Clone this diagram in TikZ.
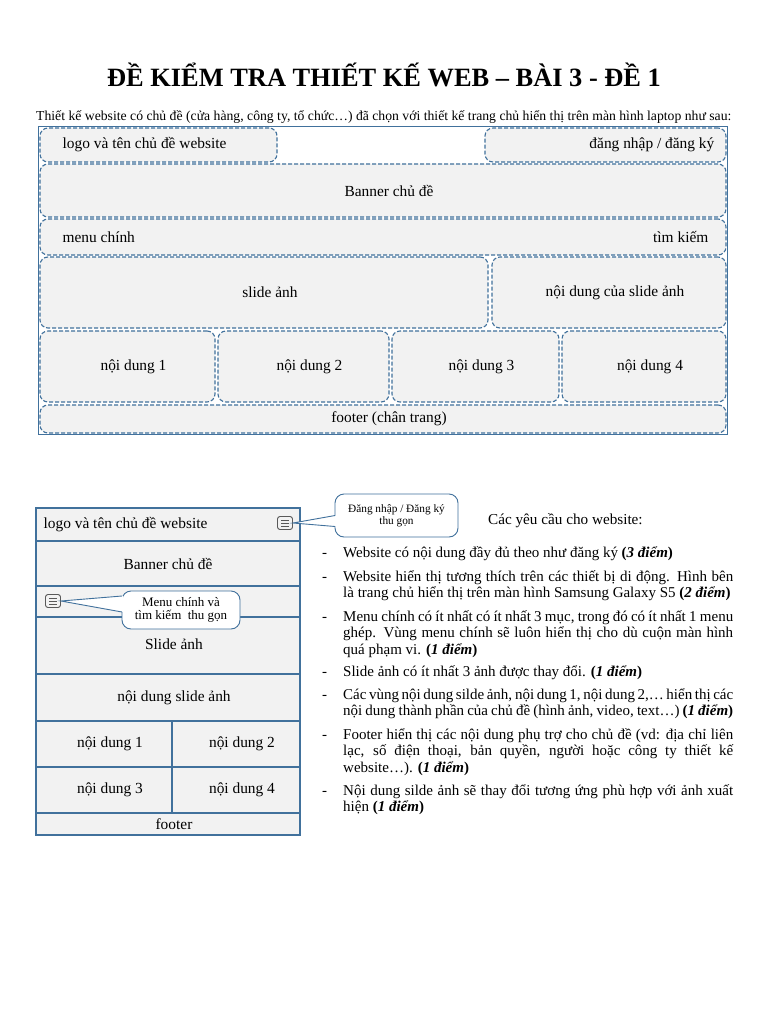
\documentclass[tikz,border=0pt]{standalone}
\usepackage{fontspec}
\setmainfont{Liberation Serif}
\usetikzlibrary{positioning}
\definecolor{lineblue}{RGB}{65,113,156}
\definecolor{boxgray}{RGB}{242,242,242}
\definecolor{icongray}{RGB}{89,89,89}

\begin{document}
\begin{tikzpicture}[x=1pt,y=-1pt]%
\tikzstyle{padtext}=[execute at begin node=\hspace*{12pt}];%%
\tikzstyle{lbox}=[draw=lineblue,dash pattern=on 4pt off 2pt,line width=1.1pt,fill=boxgray,rounded corners=8pt,inner sep=0pt,padtext,font=\fontsize{15.4}{17}\selectfont];%%
\tikzstyle{mbox}=[draw=lineblue,line width=1.2pt,fill=boxgray,inner sep=0pt,font=\fontsize{15.4}{17}\selectfont];%%
\tikzstyle{btext}=[inner sep=0pt,font=\fontsize{15.4}{17}\selectfont];%%
\tikzstyle{callout}=[draw=lineblue,line width=.9pt,fill=white,rounded corners=9pt,align=center,inner sep=0pt];%%
\tikzstyle{menuicon}=[draw=icongray,line width=.9pt,fill=boxgray,rounded corners=2.5pt,minimum width=15pt,minimum height=13pt,inner sep=0pt];%%
\tikzstyle{req}=[anchor=base west,text width=411pt,align=justify,inner sep=0pt,font=\fontsize{15}{16.8}\selectfont];%%
\useasboundingbox[fill=white] (0,0) rectangle (768,1024);%%
% heading
\node[anchor=base,inner sep=0pt,font=\fontsize{26.4}{30}\selectfont\bfseries] (title) at (384,87) {ĐỀ KIỂM TRA THIẾT KẾ WEB – BÀI 3 - ĐỀ 1}; %%
\node[anchor=base west,inner sep=0pt,font=\fontsize{13.7}{15}\selectfont] (intro) at (36,121) {Thiết kế website có chủ đề (cửa hàng, công ty, tổ chức…) đã chọn với thiết kế trang chủ hiển thị trên màn hình laptop như sau:}; %%
% laptop
\node[draw=lineblue,line width=.8pt,minimum width=689pt,minimum height=308pt,inner sep=0pt] (laptop) at (382.5,280) {}; %%
\node[lbox,minimum width=237pt,minimum height=34pt] (llogo) at (158.5,145) {}; %%
\node[btext,anchor=west] (llogotext) at ([xshift=23pt]llogo.west) {logo và tên chủ đề website}; %%
\node[lbox,minimum width=241pt,minimum height=34pt] (llogin) at (605.5,145) {}; %%
\node[btext,anchor=east] (llogintext) at ([xshift=-12pt]llogin.east) {đăng nhập / đăng ký}; %%
\node[lbox,minimum width=686pt,minimum height=53pt] (lbanner) at (383,190.5) {Banner chủ đề}; %%
\node[lbox,minimum width=686pt,minimum height=36pt] (lmenu) at (383,237) {}; %%
\node[btext,anchor=west] (lmenutext) at ([xshift=23pt]lmenu.west) {menu chính}; %%
\node[btext,anchor=east] (lsearch) at ([xshift=-18pt]lmenu.east) {tìm kiếm}; %%
\node[lbox,minimum width=448pt,minimum height=71pt] (lslide) at (264,292.5) {slide ảnh}; %%
\node[lbox,minimum width=234pt,minimum height=71pt] (lslideinfo) at (609,292.5) {nội dung của slide ảnh}; %%
\node[lbox,minimum width=175pt,minimum height=71pt] (lnd1) at (127.5,366.5) {nội dung 1}; %%
\node[lbox,minimum width=171pt,minimum height=71pt] (lnd2) at (303.5,366.5) {nội dung 2}; %%
\node[lbox,minimum width=167pt,minimum height=71pt] (lnd3) at (475.5,366.5) {nội dung 3}; %%
\node[lbox,minimum width=164pt,minimum height=71pt] (lnd4) at (644,366.5) {nội dung 4}; %%
\node[lbox,minimum width=686pt,minimum height=28pt] (lfooter) at (383,419) {footer (chân trang)}; %%
% mobile
\node[mbox,minimum width=264pt,minimum height=33pt] (mlogo) at (168,524.5) {}; %%
\node[btext,anchor=west] (mlogotext) at ([xshift=8pt]mlogo.west) {logo và tên chủ đề website}; %%
\node[mbox,minimum width=264pt,minimum height=45pt] (mbanner) at (168,563.5) {Banner chủ đề}; %%
\node[mbox,minimum width=264pt,minimum height=31pt] (mmenu) at (168,601.5) {}; %%
\node[mbox,minimum width=264pt,minimum height=57pt] (mslide) at (168,645.5) {}; %%
\node[btext] (mslidetext) at (174,644) {Slide ảnh}; %%
\node[mbox,padtext,minimum width=264pt,minimum height=47pt] (mslideinfo) at (168,697.5) {nội dung slide ảnh}; %%
\node[mbox,padtext,minimum width=136pt,minimum height=46pt] (mnd1) at (104,744) {nội dung 1}; %%
\node[mbox,padtext,minimum width=128pt,minimum height=46pt] (mnd2) at (236,744) {nội dung 2}; %%
\node[mbox,padtext,minimum width=136pt,minimum height=46pt] (mnd3) at (104,790) {nội dung 3}; %%
\node[mbox,padtext,minimum width=128pt,minimum height=46pt] (mnd4) at (236,790) {nội dung 4}; %%
\node[mbox,padtext,minimum width=264pt,minimum height=22pt] (mfooter) at (168,824) {footer}; %%
% collapsed menu icons
\node[menuicon] (iconlogin) at (285,523) {}; %%
\draw[icongray,line width=1pt] ([xshift=-4pt,yshift=3pt]iconlogin.center) -- ([xshift=4pt,yshift=3pt]iconlogin.center); %%
\draw[icongray,line width=1pt] ([xshift=-4pt]iconlogin.center) -- ([xshift=4pt]iconlogin.center); %%
\draw[icongray,line width=1pt] ([xshift=-4pt,yshift=-3pt]iconlogin.center) -- ([xshift=4pt,yshift=-3pt]iconlogin.center); %%
\node[menuicon] (iconmenu) at (53,601) {}; %%
\draw[icongray,line width=1pt] ([xshift=-4pt,yshift=3pt]iconmenu.center) -- ([xshift=4pt,yshift=3pt]iconmenu.center); %%
\draw[icongray,line width=1pt] ([xshift=-4pt]iconmenu.center) -- ([xshift=4pt]iconmenu.center); %%
\draw[icongray,line width=1pt] ([xshift=-4pt,yshift=-3pt]iconmenu.center) -- ([xshift=4pt,yshift=-3pt]iconmenu.center); %%
% callouts
\node[callout,minimum width=123pt,minimum height=43pt,font=\fontsize{11.3}{12}\selectfont] (clogin) at (396.5,515.5) {Đăng nhập / Đăng ký\\thu gọn}; %%
\fill[white] ([xshift=1.5pt]clogin.west) -- (iconlogin.east) -- ([xshift=1.5pt,yshift=-11pt]clogin.west) -- cycle; %%
\draw[lineblue,line width=.9pt] ([xshift=.5pt]clogin.west) -- (iconlogin.east) -- ([xshift=.5pt,yshift=-11pt]clogin.west); %%
\node[callout,minimum width=118pt,minimum height=38pt,font=\fontsize{13}{13.5}\selectfont] (cmenu) at (181,610) {Menu chính và\\tìm kiếm\ \ thu gọn}; %%
\fill[white] ([xshift=1.5pt,yshift=14pt]cmenu.west) -- (iconmenu.east) -- ([xshift=1.5pt,yshift=-2pt]cmenu.west) -- cycle; %%
\draw[lineblue,line width=.9pt] ([xshift=.5pt,yshift=14pt]cmenu.west) -- (iconmenu.east) -- ([xshift=.5pt,yshift=-2pt]cmenu.west); %%
% requirements
\node[anchor=base west,inner sep=0pt,font=\fontsize{15.2}{17}\selectfont] (reqhead) at (488,524.5) {Các yêu cầu cho website:}; %%
\node[req] (req1) at (322,557) {\hangindent=21pt\hangafter=1\makebox[21pt][l]{-}Website có nội dung đầy đủ theo như đăng ký \textbf{(\textit{3 điểm})}\par}; %%
\node[req] (req2) at (322,581) {\hangindent=21pt\hangafter=1\makebox[21pt][l]{-}Website hiển thị tương thích trên các thiết bị di động. Hình bên\linebreak là trang chủ hiển thị trên màn hình Samsung Galaxy S5 \textbf{(\textit{2 điểm})}\par}; %%
\node[req] (req3) at (322,621) {\hangindent=21pt\hangafter=1\makebox[21pt][l]{-}Menu chính có ít nhất có ít nhất 3 mục, trong đó có ít nhất 1 menu\linebreak ghép. Vùng menu chính sẽ luôn hiển thị cho dù cuộn màn hình\linebreak quá phạm vi. \textbf{(\textit{1 điểm})}\par}; %%
\node[req] (req4) at (322,676) {\hangindent=21pt\hangafter=1\makebox[21pt][l]{-}Slide ảnh có ít nhất 3 ảnh được thay đổi. \textbf{(\textit{1 điểm})}\par}; %%
\node[req] (req5) at (322,699) {\hangindent=21pt\hangafter=1\makebox[21pt][l]{-}Các vùng nội dung silde ảnh, nội dung 1, nội dung 2,… hiển thị các\linebreak nội dung thành phần của chủ đề (hình ảnh, video, text…) \textbf{(\textit{1~điểm})}\par}; %%
\node[req] (req6) at (322,739) {\hangindent=21pt\hangafter=1\makebox[21pt][l]{-}Footer hiển thị các nội dung phụ trợ cho chủ đề (vd: địa chỉ liên\linebreak lạc, số điện thoại, bản quyền, người hoặc công ty thiết kế\linebreak website…). \textbf{(\textit{1 điểm})}\par}; %%
\node[req] (req7) at (322,795) {\hangindent=21pt\hangafter=1\makebox[21pt][l]{-}Nội dung silde ảnh sẽ thay đổi tương ứng phù hợp với ảnh xuất\linebreak hiện \textbf{(\textit{1 điểm})}\par}; %%
\end{tikzpicture}
\end{document}
